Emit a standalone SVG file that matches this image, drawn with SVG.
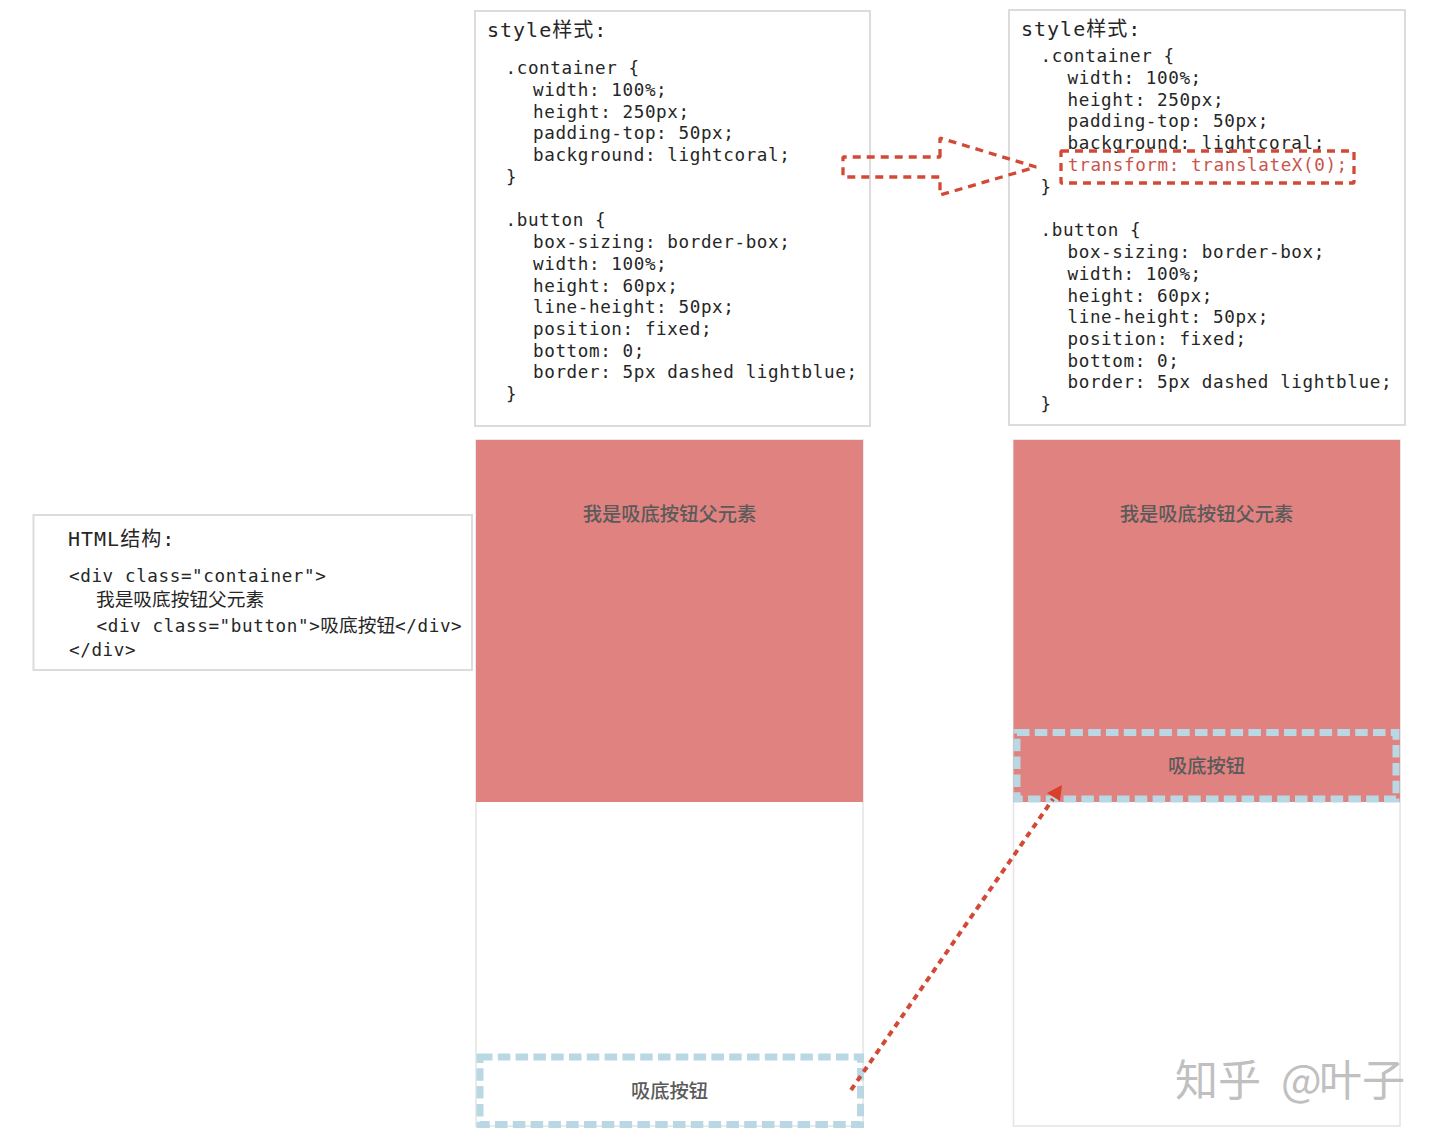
<svg xmlns="http://www.w3.org/2000/svg" width="1440" height="1137" viewBox="0 0 1440 1137">
<style>
.box{fill:#fff;stroke:#dcdcdc;stroke-width:2}
.phone{fill:#fff;stroke:#e4e4e4;stroke-width:1.5}
.code{font-family:"DejaVu Sans Mono","Noto Sans CJK SC",monospace;font-size:17.6px;letter-spacing:.6px;fill:#262626}
.title{font-family:"DejaVu Sans Mono","Noto Sans CJK SC",monospace;font-size:20px;letter-spacing:1px;fill:#262626}
.cjk{font-family:"Noto Sans CJK SC",sans-serif;font-size:19.300px;font-weight:500;fill:#5a5a5a}
.cjkd{font-family:"Noto Sans CJK SC",sans-serif;font-size:18.700px;letter-spacing:0;fill:#262626}
.coral{fill:#e08280}
.dash{fill:none;stroke:#b9d8e4;stroke-width:7;stroke-dasharray:12.500 5.300}
.red{fill:none;stroke:#d24a36;stroke-width:3.300;stroke-dasharray:8 6;stroke-linejoin:bevel}
</style>
<rect width="1440" height="1137" fill="#fff"/>
<g id="code-left">
<rect class="box" x="475" y="11" width="395" height="415"/>
<text class="title" x="487" y="36.500">style样式:</text>
<text class="code" x="505.500" y="74">.container {</text>
<text class="code" x="533" y="96">width: 100%;</text>
<text class="code" x="533" y="118">height: 250px;</text>
<text class="code" x="533" y="139">padding-top: 50px;</text>
<text class="code" x="533" y="161">background: lightcoral;</text>
<text class="code" x="506" y="183">}</text>
<text class="code" x="505.500" y="226">.button {</text>
<text class="code" x="533" y="248">box-sizing: border-box;</text>
<text class="code" x="533" y="270">width: 100%;</text>
<text class="code" x="533" y="292">height: 60px;</text>
<text class="code" x="533" y="313">line-height: 50px;</text>
<text class="code" x="533" y="335">position: fixed;</text>
<text class="code" x="533" y="357">bottom: 0;</text>
<text class="code" x="533" y="378">border: 5px dashed lightblue;</text>
<text class="code" x="506" y="400">}</text>
</g>
<g id="code-right">
<rect class="box" x="1009" y="10" width="396" height="415"/>
<text class="title" x="1021" y="35.500">style样式:</text>
<text class="code" x="1040.500" y="62">.container {</text>
<text class="code" x="1067.500" y="84">width: 100%;</text>
<text class="code" x="1067.500" y="106">height: 250px;</text>
<text class="code" x="1067.500" y="127">padding-top: 50px;</text>
<text class="code" x="1067.500" y="149">background: lightcoral;</text>
<text class="code" x="1068" y="171" style="fill:#c9554c">transform: translateX(0);</text>
<text class="code" x="1040.500" y="193">}</text>
<text class="code" x="1040.500" y="236">.button {</text>
<text class="code" x="1067.500" y="258">box-sizing: border-box;</text>
<text class="code" x="1067.500" y="280">width: 100%;</text>
<text class="code" x="1067.500" y="302">height: 60px;</text>
<text class="code" x="1067.500" y="323">line-height: 50px;</text>
<text class="code" x="1067.500" y="345">position: fixed;</text>
<text class="code" x="1067.500" y="367">bottom: 0;</text>
<text class="code" x="1067.500" y="388">border: 5px dashed lightblue;</text>
<text class="code" x="1040.500" y="410">}</text>
</g>
<g id="html-structure">
<rect class="box" x="33.500" y="515" width="438.500" height="155"/>
<text class="title" x="68" y="546">HTML结构:</text>
<text class="code" x="69" y="582">&lt;div class="container"&gt;</text>
<text class="cjkd" x="96" y="606">我是吸底按钮父元素</text>
<text class="code" x="96.500" y="632">&lt;div class="button"&gt;<tspan class="cjkd">吸底按钮</tspan>&lt;/div&gt;</text>
<text class="code" x="69" y="656">&lt;/div&gt;</text>
</g>
<g id="phone-left">
<rect class="phone" x="476" y="440" width="387" height="686"/>
<rect class="coral" x="476" y="440" width="387" height="362"/>
<text class="cjk" x="669.500" y="520.500" text-anchor="middle">我是吸底按钮父元素</text>
<rect class="dash" x="480" y="1057" width="380.500" height="67.500"/>
<text class="cjk" x="669.500" y="1097.500" text-anchor="middle">吸底按钮</text>
</g>
<g id="phone-right">
<rect class="phone" x="1013.500" y="440" width="386.500" height="686"/>
<rect class="coral" x="1013.500" y="440" width="386.500" height="362"/>
<text class="cjk" x="1206.500" y="520.500" text-anchor="middle">我是吸底按钮父元素</text>
<rect class="dash" x="1017" y="732.500" width="379" height="66.500"/>
<text class="cjk" x="1206.500" y="773" text-anchor="middle">吸底按钮</text>
</g>
<g id="connectors">
<path class="red" d="M940 157V138L1036 167L940 195V177H843V157Z"/>
<rect class="red" x="1061" y="151" width="293" height="32"/>
<path d="M851 1090L1053 799" style="fill:none;stroke:#d24a36;stroke-width:4;stroke-dasharray:6 5"/>
<polygon points="1062,785 1060,801 1047,793" fill="#d9402a"/>
</g>
<g id="watermark" style="font-family:'Noto Sans CJK SC',sans-serif;font-size:43px;fill:#c0c0c0">
<text x="1175" y="1096">知乎</text>
<text x="1281" y="1096">@</text>
<text x="1319" y="1096">叶子</text>
</g>
</svg>
